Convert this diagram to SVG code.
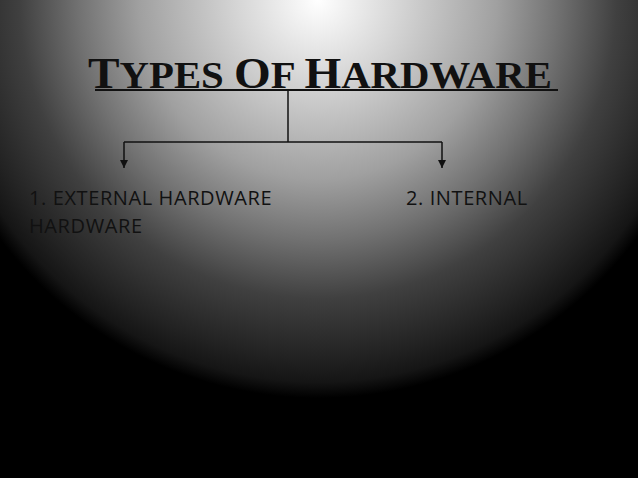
<svg xmlns="http://www.w3.org/2000/svg" width="638" height="478" viewBox="0 0 638 478">
<defs>
<radialGradient id="bg" gradientUnits="userSpaceOnUse" cx="318" cy="0" r="398">
<stop offset="0" stop-color="#ffffff"/>
<stop offset="0.2" stop-color="#d6d6d6"/>
<stop offset="0.45" stop-color="#a0a0a0"/>
<stop offset="0.6" stop-color="#727272"/>
<stop offset="0.75" stop-color="#404040"/>
<stop offset="0.9" stop-color="#222222"/>
<stop offset="0.96" stop-color="#151515"/>
<stop offset="1" stop-color="#000000"/>
</radialGradient>
<marker id="arr" viewBox="0 0 10 10" refX="10" refY="5" markerWidth="8" markerHeight="8" markerUnits="userSpaceOnUse" orient="auto">
<path d="M0,0 L10,5 L0,10 Z" fill="#111"/>
</marker>
<style>
.title{font-family:"Liberation Serif",serif;font-weight:bold;fill:#111;}
.lbl{font-family:"Open Sans","Noto Sans",sans-serif;font-size:20px;letter-spacing:0.6px;fill:#111;}
.conn{stroke:#111;stroke-width:1.5;fill:none;}
</style>
</defs>
<rect width="638" height="478" fill="#000"/>
<rect width="638" height="478" fill="url(#bg)"/>
<g id="title">
<text class="title" x="88" y="88" font-size="38" textLength="464" lengthAdjust="spacingAndGlyphs"><tspan font-size="44">T</tspan>YPES <tspan font-size="44">O</tspan>F <tspan font-size="44">H</tspan>ARDWARE</text>
<line x1="95" y1="90" x2="558" y2="90" stroke="#111" stroke-width="2"/>
</g>
<g id="connectors">
<line class="conn" x1="288" y1="91" x2="288" y2="142"/>
<line class="conn" x1="124" y1="142" x2="442" y2="142"/>
<line class="conn" x1="124" y1="142" x2="124" y2="168" marker-end="url(#arr)"/>
<line class="conn" x1="442" y1="142" x2="442" y2="168" marker-end="url(#arr)"/>
</g>
<g id="external">
<text class="lbl" x="29" y="205">1. EXTERNAL HARDWARE</text>
<text class="lbl" x="29" y="232.5">HARDWARE</text>
</g>
<g id="internal">
<text class="lbl" x="406" y="205">2. INTERNAL</text>
</g>
</svg>
